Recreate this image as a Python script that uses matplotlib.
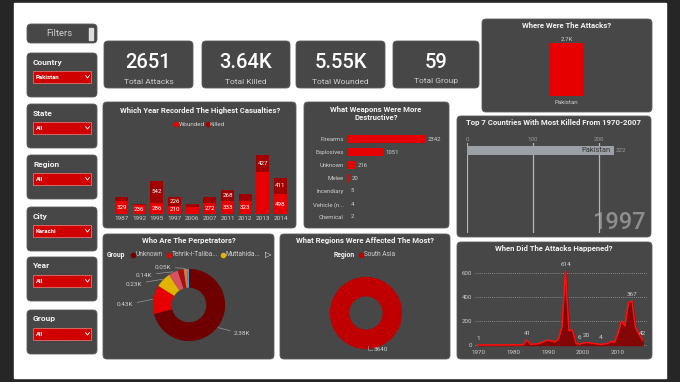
import matplotlib
matplotlib.use('Agg')
import matplotlib.pyplot as plt
from matplotlib.patches import FancyBboxPatch, Rectangle
from matplotlib import font_manager
import numpy as np

# ---- data ----
card_names = ['Total Attacks', 'Total Killed', 'Total Wounded', 'Total Group']
card_values = ['2651', '3.64K', '5.55K', '59']

slicer_names = ['Country', 'State', 'Region', 'City', 'Year', 'Group']
slicer_values = ['Pakistan', 'All', 'All', 'Karachi', 'All', 'All']

cas_years = ['1987', '1992', '1995', '1997', '2006', '2007', '2011', '2012', '2013', '2014']
wounded = [329, 236, 286, 210, 180, 272, 333, 323, 1060, 498]
killed = [85, 20, 542, 226, 65, 150, 268, 175, 427, 411]

weapons = ['Firearms', 'Explosives', 'Unknown', 'Melee', 'Incendiary', 'Vehicle (n...', 'Chemical']
weapon_killed = [2342, 1051, 216, 20, 5, 4, 2]

where_country = ['Pakistan']
where_attacks = [2651]

top7_country = ['Pakistan']
top7_killed = [222]
top7_year = '1997'

perp_groups = ['Unknown', 'Tehrik-i-Taliban Pakistan (TTP)', 'Muttahida Qami Movement (MQM)',
               'Lashkar-e-Jhangvi', 'Sipah-e-Sahaba', 'Baloch Liberation Army', 'Sunni Muslims']
perp_killed = [2380, 430, 230, 140, 90, 50, 30]
perp_labelled = [True, True, True, True, False, True, False]

regions = ['South Asia']
region_killed = [3640]

tl_years = list(range(1970, 2018))
tl_attacks = [1, 0, 0, 0, 1, 0, 0, 0, 1, 1,
              2, 1, 2, 3, 41, 5, 8, 10, 18, 30,
              40, 35, 25, 50, 150, 614, 120, 125, 15, 6,
              15, 20, 18, 12, 10, 4, 8, 12, 30, 22,
              95, 200, 160, 350, 367, 145, 90, 42]
tl_labelled = [1970, 1984, 1995, 1999, 2001, 2005, 2014, 2017]

# ---- style ----
W, H = 680, 382
PANEL = '#474747'
RED = '#e60000'
DARKRED = '#a00000'
TXT = '#f2f2f2'
SUB = '#cfcfcf'

names = set(f.name for f in font_manager.fontManager.ttflist)
NARROW = 'Liberation Sans Narrow' in names
TF = 'Liberation Sans Narrow' if NARROW else 'Roboto'
plt.rcParams['font.family'] = 'Roboto'
tsize = 6.3 if NARROW else 5.6
nsize = 16 if NARROW else 14.5

fig = plt.figure(figsize=(6.8, 3.82), dpi=100)
bg = fig.add_axes([0, 0, 1, 1])
bg.set_xlim(0, W)
bg.set_ylim(H, 0)
bg.axis('off')
bg.add_patch(Rectangle((0, 0), W, H, color='#262626'))
bg.add_patch(Rectangle((14, 3), 652, 375, color='white'))


def panel(x0, y0, x1, y1, r=4):
    bg.add_patch(FancyBboxPatch((x0, y0), x1 - x0, y1 - y0,
                                boxstyle='round,pad=0,rounding_size=%d' % r,
                                fc=PANEL, ec='#5c5c5c', lw=0.6))


def title(x, y, s):
    bg.text(x, y, s, ha='center', va='center', color=TXT, fontsize=tsize,
            fontweight='bold', family=TF)


def ax_at(x0, y0, x1, y1):
    a = fig.add_axes([x0 / W, 1 - y1 / H, (x1 - x0) / W, (y1 - y0) / H])
    a.set_facecolor('none')
    for s in a.spines.values():
        s.set_visible(False)
    return a


# filters button
panel(27, 24, 97, 43)
bg.text(59, 34, 'Filters', ha='center', va='center', color=SUB, fontsize=6.8)
bg.add_patch(Rectangle((89, 27.5), 3.5, 12, color='#dddddd'))

# slicers
slicer_tops = [53, 104, 155, 207, 257, 310]
for name, val, top in zip(slicer_names, slicer_values, slicer_tops):
    panel(27, top, 97, top + 44)
    bg.text(33, top + 9, name, ha='left', va='center', color=TXT, fontsize=6, fontweight='bold')
    bg.add_patch(Rectangle((33, top + 18), 58, 12, fc='#d00000', ec='#f08080', lw=0.5))
    bg.text(35.5, top + 24.3, val, ha='left', va='center', color='white', fontsize=4.3, fontweight='bold')
    bg.plot([85.5, 87.5, 89.5], [top + 22.5, top + 25, top + 22.5], color='white', lw=0.6)

# KPI cards
card_x = [(104, 193), (202, 290), (296, 385), (393, 479)]
for (x0, x1), lab, val in zip(card_x, card_names, card_values):
    panel(x0, 41, x1, 88)
    bg.text((x0 + x1) / 2, 62, val, ha='center', va='center', color='white',
            fontsize=nsize, family=TF, fontweight=500)
    bg.text((x0 + x1) / 2, 81.5, lab, ha='center', va='center', color=SUB, fontsize=6)

# ---- Which Year Recorded The Highest Casualties? ----
panel(103, 102, 296, 228)
title(200, 110, 'Which Year Recorded The Highest Casualties?')
bg.plot(176, 124, 'o', ms=3, color=RED)
bg.text(178.5, 124, 'Wounded', va='center', color=SUB, fontsize=4.5)
bg.plot(207.5, 124, 'o', ms=3, color=DARKRED)
bg.text(210, 124, 'Killed', va='center', color=SUB, fontsize=4.5)

ax = ax_at(112.7, 130, 289.4, 214)
x = np.arange(len(cas_years))
ax.bar(x, wounded, width=0.74, color=RED)
ax.bar(x, killed, width=0.74, bottom=wounded, color=DARKRED)
ax.set_xlim(-0.5, len(cas_years) - 0.5)
ax.set_ylim(0, 2100)
ax.set_yticks([])
ax.set_xticks(x)
ax.set_xticklabels(cas_years, fontsize=4.6, color=SUB)
ax.tick_params(axis='x', length=0, pad=1.5)
for i in range(len(cas_years)):
    if 200 <= wounded[i] < 1000:
        ax.text(x[i], wounded[i] / 2, str(wounded[i]), ha='center', va='center',
                color='white', fontsize=4.5)
    if 200 <= killed[i] < 1000:
        ax.text(x[i], wounded[i] + killed[i] / 2, str(killed[i]), ha='center', va='center',
                color='white', fontsize=4.5)

# ---- What Weapons Were More Destructive? ----
panel(304, 102, 449, 228)
title(376, 109.5, 'What Weapons Were More')
title(376, 118, 'Destructive?')
ax = ax_at(348, 132.5, 440, 223.5)
y = np.arange(len(weapons))
ax.barh(y, weapon_killed, height=0.68, color=RED)
ax.set_ylim(len(weapons) - 0.5, -0.5)
ax.set_xlim(0, 92 / 0.0329)
ax.set_xticks([])
ax.set_yticks(y)
ax.set_yticklabels(weapons, fontsize=4.3, color=SUB)
ax.tick_params(axis='y', length=0, pad=3)
for i, v in enumerate(weapon_killed):
    ax.text(v + 80, i, str(v), va='center', ha='left', color=SUB, fontsize=4.3)

# ---- Where Were The Attacks? ----
panel(482, 19, 652, 112)
title(567, 26, 'Where Were The Attacks?')
ax = ax_at(531.5, 40, 601.5, 96)
ax.bar([0], where_attacks, width=1, color=RED)
ax.set_xlim(-1, 1)
ax.set_ylim(0, where_attacks[0] * 56 / 53)
ax.set_yticks([])
ax.set_xticks([0])
ax.set_xticklabels(where_country, fontsize=4.4, color=SUB)
ax.tick_params(axis='x', length=0, pad=3)
ax.text(0, where_attacks[0] * 1.01, '%.1fK' % (where_attacks[0] / 1000), ha='center', va='bottom',
        color=SUB, fontsize=4.4)

# ---- Top 7 Countries ----
panel(457, 116, 651, 237)
title(554, 123, 'Top 7 Countries With Most Killed From 1970-2007')
ax = ax_at(467, 143, 647, 233)
ax.set_xlim(0, 180 / 0.66)
ax.set_ylim(90, 0)
for g in [0, 100, 200]:
    ax.axvline(g, color='#b5b5b5', lw=0.9, zorder=1)
ax.barh([7.5], top7_killed, height=9, color='#9ca1a8', zorder=2)
ax.xaxis.tick_top()
ax.set_xticks([0, 100, 200])
ax.set_xticklabels(['0', '100', '200'], fontsize=4.4, color='#9a9a9a')
ax.tick_params(axis='x', length=0, pad=1)
ax.set_yticks([])
ax.text(top7_killed[0] - 4, 7.5, top7_country[0], ha='right', va='center', color='#333333', fontsize=5.4)
ax.text(top7_killed[0] + 3, 7.5, str(top7_killed[0]), ha='left', va='center', color='#9a9a9a', fontsize=4.4)
bg.text(646, 234, top7_year, ha='right', va='bottom', color='#8e8e8e', fontsize=17,
        family=TF, fontweight=500)

# ---- Who Are The Perpetrators? ----
panel(103, 234, 274, 359)
title(189, 240.5, 'Who Are The Perpetrators?')
perp_colors = ['#6e0000', '#e60000', '#e0b400', '#d8525d', '#a31212', '#e8743b', '#2fa6d8']
bg.text(107, 255, 'Group', va='center', color=TXT, fontsize=4.9, fontweight='bold')
legend_names = [perp_groups[0], perp_groups[1][:15] + '...', perp_groups[2][:9] + '...']
lx = [133, 169, 223]
for xx, nm, c in zip(lx, legend_names, perp_colors):
    bg.plot(xx, 255, 'o', ms=3, color=c)
    bg.text(xx + 2.5, 255, nm, va='center', color=SUB, fontsize=4.7)
bg.text(268, 255, '\u25b7', ha='center', va='center', color='white', fontsize=6,
        family='DejaVu Sans', fontweight='bold')

ax = ax_at(124, 240, 254, 370)
wedges, _ = ax.pie(perp_killed, colors=perp_colors, startangle=90, counterclock=False,
                   wedgeprops=dict(width=0.52, linewidth=0))
ax.set_xlim(-1.8, 1.8)
ax.set_ylim(-1.8, 1.8)
ax.set_aspect('equal')
label_xy = [(1.25, -0.8), (-1.55, 0.0), (-1.3, 0.58), (-1.02, 0.83), (-0.5, 1.05)]
k = 0
for w, v, show in zip(wedges, perp_killed, perp_labelled):
    if not show:
        continue
    ang = np.deg2rad((w.theta1 + w.theta2) / 2)
    px, py = np.cos(ang) * 1.02, np.sin(ang) * 1.02
    tx, ty = label_xy[k]
    k += 1
    ax.annotate('%.2fK' % (v / 1000), xy=(px, py), xytext=(tx, ty),
                ha='left' if tx > 0 else 'right', va='center', color=SUB, fontsize=4.6,
                arrowprops=dict(arrowstyle='-', color='#9a9a9a', lw=0.5,
                                shrinkA=1, shrinkB=0), annotation_clip=False)

# ---- What Regions Were Affected The Most? ----
panel(280, 234, 450, 359)
title(365, 240.5, 'What Regions Were Affected The Most?')
bg.text(334, 255, 'Region', va='center', color=TXT, fontsize=4.9, fontweight='bold')
bg.plot(361, 255, 'o', ms=3, color='#c00000')
bg.text(363.5, 255, regions[0], va='center', color=SUB, fontsize=4.7)
ax = ax_at(301, 248, 431, 378)
ax.pie(region_killed, colors=['#c00000'], startangle=90, counterclock=False,
       wedgeprops=dict(width=0.54, linewidth=0))
ax.set_xlim(-1.8, 1.8)
ax.set_ylim(-1.8, 1.8)
ax.set_aspect('equal')
ax.plot([0.05, 0.05, 0.17], [-0.9, -1.02, -1.02], color='#9a9a9a', lw=0.5, clip_on=False)
ax.text(0.2, -1.02, str(region_killed[0]), ha='left', va='center', color=SUB, fontsize=4.6)

# ---- When Did The Attacks Happened? ----
panel(457, 242, 652, 359)
title(554, 248, 'When Did The Attacks Happened?')
ax = ax_at(475, 262, 647, 347)
ax.set_xlim(1970 + (475 - 478) / 3.5, 1970 + (647 - 478) / 3.5)
ax.set_ylim(-2 / 0.12, (345 - 262) / 0.12)
for g in [0, 200, 400, 600]:
    ax.axhline(g, color='#a0a0a0', lw=0.6, ls=(0, (1, 1.5)), zorder=1)
ax.fill_between(tl_years, tl_attacks, 0, color='#8a0000', alpha=0.9, zorder=2)
ax.plot(tl_years, tl_attacks, color='#ff1010', lw=1.1, zorder=3)
ax.set_yticks([0, 200, 400, 600])
ax.set_yticklabels(['0', '200', '400', '600'], fontsize=4.4, color=SUB)
ax.set_xticks([1970, 1980, 1990, 2000, 2010])
ax.set_xticklabels(['1970', '1980', '1990', '2000', '2010'], fontsize=4.4, color=SUB)
ax.tick_params(length=0, pad=2)
for yr in tl_labelled:
    v = tl_attacks[tl_years.index(yr)]
    ax.annotate(str(v), xy=(yr, v), xytext=(0, 3), textcoords='offset points',
                ha='center', va='bottom', color=SUB, fontsize=4.6, annotation_clip=False)

fig.savefig('out.png', dpi=100)
